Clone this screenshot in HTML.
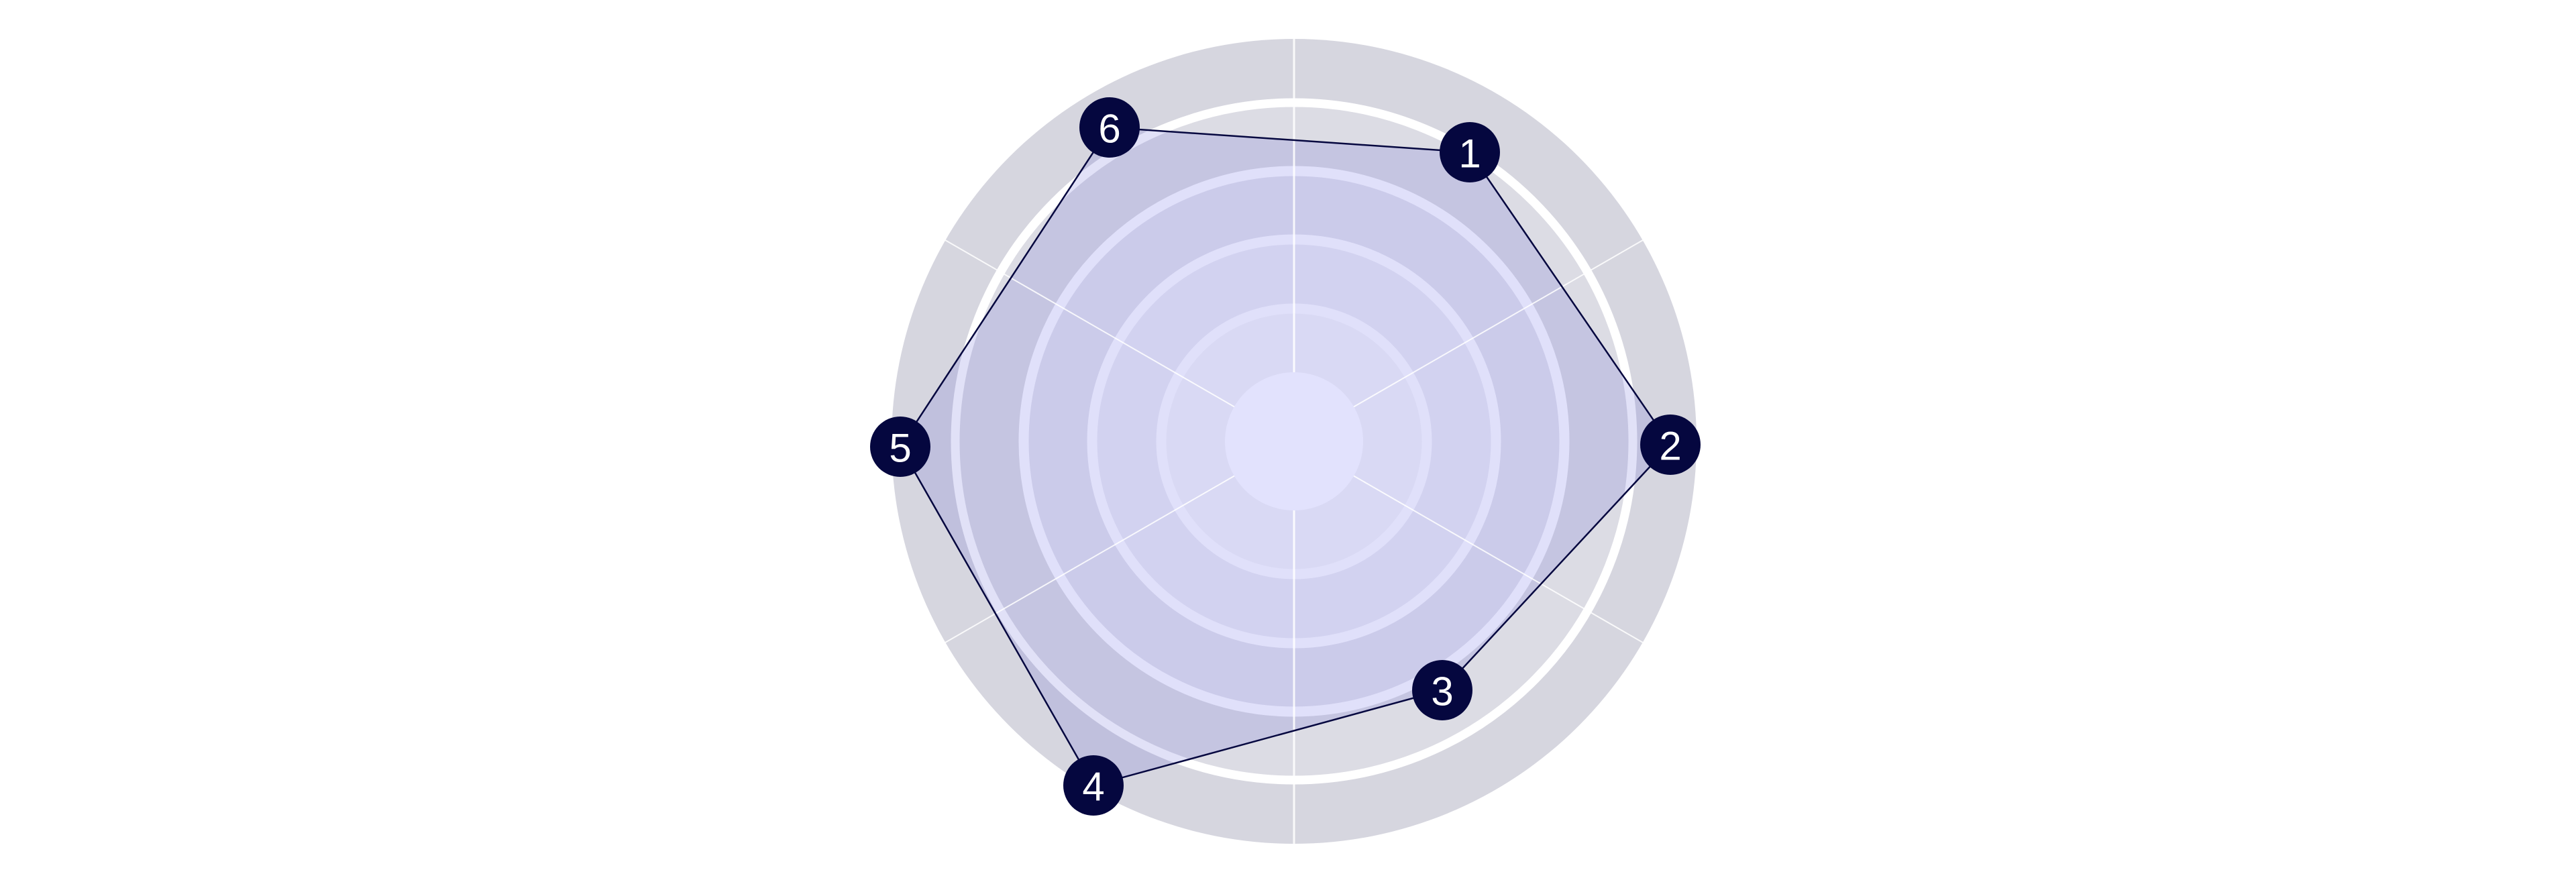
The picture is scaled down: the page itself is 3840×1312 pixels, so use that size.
<!DOCTYPE html>
<html><head><meta charset="utf-8"><style>
html,body{margin:0;padding:0;background:#fff;}
svg{display:block;}
</style></head><body>
<svg width="3840" height="1312" viewBox="0 0 3840 1312" xmlns="http://www.w3.org/2000/svg">
<rect width="3840" height="1312" fill="#fff"/>
<g transform="translate(1929,658)">
<circle r="600" fill="#d6d6df"/>
<circle r="505" fill="#dcdce4" stroke="#fff" stroke-width="13"/>
</g>
<polygon points="2191,227 2490,663 2150,1029 1630,1171 1342,666 1654,190" fill="#6b6bd6" fill-opacity="0.2" stroke="none"/>
<g transform="translate(1929,658)">
<circle r="403" fill="#cbcbea" stroke="#e0e0fa" stroke-width="15"/>
<circle r="301" fill="#d2d2f0" stroke="#e0e0fa" stroke-width="15"/>
<circle r="198" fill="#d9d9f4" stroke="#e0e0fa" stroke-width="15"/>
<circle r="103" fill="#e2e2fd"/>
<g stroke="#ffffff" stroke-opacity="0.85" stroke-width="2">
<line x1="0" y1="-103" x2="0" y2="-600" stroke-width="3"/>
<line x1="0" y1="103" x2="0" y2="600" stroke-width="3"/>
<line x1="89" y1="-51.5" x2="520" y2="-300"/>
<line x1="89" y1="51.5" x2="520" y2="300"/>
<line x1="-89" y1="-51.5" x2="-520" y2="-300"/>
<line x1="-89" y1="51.5" x2="-520" y2="300"/>
</g>
</g>
<polygon points="2191,227 2490,663 2150,1029 1630,1171 1342,666 1654,190" fill="none" stroke="#05073f" stroke-width="2.5"/>
<g fill="#05073f">
<circle cx="2191" cy="227" r="45"/>
<circle cx="2490" cy="663" r="45"/>
<circle cx="2150" cy="1029" r="45"/>
<circle cx="1630" cy="1171" r="45"/>
<circle cx="1342" cy="666" r="45"/>
<circle cx="1654" cy="190" r="45"/>
</g>
<g fill="#fff" font-family="Liberation Sans, DejaVu Sans, sans-serif" font-size="60" text-anchor="middle" dominant-baseline="central">
<text x="2191" y="229">1</text>
<text x="2490" y="665">2</text>
<text x="2150" y="1031">3</text>
<text x="1630" y="1173">4</text>
<text x="1342" y="668">5</text>
<text x="1654" y="192">6</text>
</g>
</svg>
</body></html>
